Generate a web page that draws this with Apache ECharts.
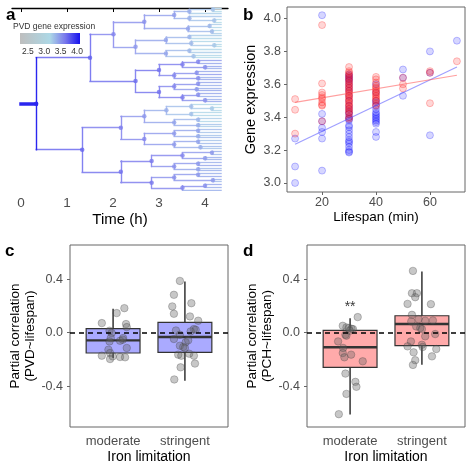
<!DOCTYPE html>
<html>
<head>
<meta charset="utf-8">
<script src="https://cdn.jsdelivr.net/npm/echarts@6/dist/echarts.min.js"></script>
<style>
  html, body { margin: 0; padding: 0; background: #fff; }
  #chart { width: 474px; height: 473px; }
</style>
</head>
<body>
<div id="chart"></div>
<script>
// ---- panel a: lineage tree ----
// node = [division time (h), PVD expression, upper child, lower child]; a bare number is a cell alive at the end
const END_TIME = 4.35;
const timeTicks = [0, 1, 2, 3, 4];
const legendTicks = [2.5, 3.0, 3.5, 4.0];
const upperLineage = [1.50, 3.78,
  [2.01, 3.62,
    [2.68, 3.55,
      [3.33, 3.48, [3.66, 3.40, [4.17, 3.30, 3.22, 3.18], 3.24], [3.66, 3.38, 3.28, [4.20, 3.30, 3.20, 3.16]]],
      [3.63, 3.45, [4.10, 3.35, 3.25, 3.20], [4.15, 3.34, 3.20, 3.24]]],
    [2.49, 3.52,
      [3.15, 3.45, [3.66, 3.36, 3.25, 3.20], [3.70, 3.34, 3.20, [4.20, 3.26, 3.20, 3.15]]],
      [3.15, 3.44, [3.66, 3.35, 3.20, 3.25], [3.75, 3.30, 3.20, 3.15]]]],
  [2.49, 3.72,
    [3.00, 3.70,
      [3.51, 3.65, [3.85, 3.60, 3.50, 3.45], [4.00, 3.55, 3.45, 3.40]],
      [3.33, 3.60, [3.82, 3.55, 3.45, 3.50], [3.85, 3.55, 3.40, 3.45]]],
    [3.00, 3.70,
      [3.33, 3.60, [3.85, 3.55, 3.45, 3.40], [3.82, 3.50, 3.40, 3.45]],
      [3.51, 3.65, [3.85, 3.55, 3.45, 3.40], [4.00, 3.55, 3.40, 3.45]]]]];
const lowerLineage = [1.33, 3.76,
  [2.17, 3.65,
    [2.68, 3.52,
      [3.16, 3.40, [3.70, 3.32, 3.20, [4.15, 3.25, 3.15, 3.20]], [3.70, 3.30, 3.20, 3.20]],
      [3.33, 3.45, [3.85, 3.36, 3.25, 3.20], [3.85, 3.40, 3.30, 3.25]]],
    [2.68, 3.60,
      [3.33, 3.50, [3.85, 3.45, 3.35, 3.30], [3.85, 3.40, 3.30, 3.35]],
      [3.33, 3.50, [3.85, 3.45, 3.30, 3.35], [3.90, 3.40, 3.35, 3.30]]]],
  [2.17, 3.70,
    [2.84, 3.66,
      [3.51, 3.60, [4.15, 3.50, 3.40, 3.35], [4.00, 3.50, 3.40, 3.40]],
      [3.33, 3.55, [3.85, 3.50, 3.40, 3.45], [3.85, 3.45, 3.35, 3.40]]],
    [2.84, 3.66,
      [3.33, 3.55, [3.85, 3.50, 3.40, 3.45], [4.17, 3.50, 3.40, 3.35]],
      [3.51, 3.60, [4.00, 3.55, 3.45, 3.40], 3.40]]]];
const lineage = [0.33, 4.05, upperLineage, lowerLineage];

// ---- panel b: gene expression vs lifespan ----
const pvdPoints = [
  [10, 3.27], [10, 3.10], [10, 3.00],
  [20, 4.02], [20, 3.42], [20, 3.375], [20, 3.335], [20, 3.31], [20, 3.27], [20, 3.075],
  [30, 3.66], [30, 3.65], [30, 3.64], [30, 3.63], [30, 3.62], [30, 3.60], [30, 3.58], [30, 3.56],
  [30, 3.53], [30, 3.50], [30, 3.47], [30, 3.45], [30, 3.43], [30, 3.42], [30, 3.40], [30, 3.39],
  [30, 3.38], [30, 3.35], [30, 3.34], [30, 3.32], [30, 3.30], [30, 3.28], [30, 3.26], [30, 3.25],
  [30, 3.24], [30, 3.22], [30, 3.20], [30, 3.19], [30, 3.185],
  [40, 3.60], [40, 3.55], [40, 3.50], [40, 3.49], [40, 3.47], [40, 3.45], [40, 3.43], [40, 3.42],
  [40, 3.41], [40, 3.40], [40, 3.39], [40, 3.38], [40, 3.37], [40, 3.36], [40, 3.31], [40, 3.28],
  [50, 3.69], [50, 3.64], [50, 3.53],
  [60, 3.80], [60, 3.67], [60, 3.29],
  [70, 3.865]
];
const pchPoints = [
  [10, 3.51], [10, 3.445], [10, 3.30],
  [20, 3.96], [20, 3.605], [20, 3.55], [20, 3.535], [20, 3.52], [20, 3.51], [20, 3.49], [20, 3.475], [20, 3.47], [20, 3.375],
  [30, 3.705], [30, 3.68], [30, 3.67], [30, 3.66], [30, 3.65], [30, 3.64], [30, 3.63], [30, 3.62],
  [30, 3.61], [30, 3.60], [30, 3.59], [30, 3.58], [30, 3.57], [30, 3.56], [30, 3.55], [30, 3.54],
  [30, 3.53], [30, 3.52], [30, 3.51], [30, 3.50], [30, 3.49], [30, 3.48], [30, 3.47], [30, 3.46],
  [30, 3.45], [30, 3.44], [30, 3.43], [30, 3.42], [30, 3.40], [30, 3.39],
  [40, 3.645], [40, 3.63], [40, 3.61], [40, 3.59], [40, 3.58], [40, 3.57], [40, 3.56], [40, 3.55],
  [40, 3.54], [40, 3.53], [40, 3.52], [40, 3.51], [40, 3.50], [40, 3.48], [40, 3.47],
  [50, 3.64], [50, 3.60], [50, 3.575],
  [60, 3.68], [60, 3.67], [60, 3.485],
  [70, 3.74]
];
const fitLifespan = [10, 70];
const pvdFit = [3.235, 3.705];
const pchFit = [3.49, 3.655];
const lifespanTicks = [20, 40, 60];
const exprTicks = [3.0, 3.2, 3.4, 3.6, 3.8, 4.0];

// ---- panels c, d: partial correlations ----
const ironLevels = ['moderate', 'stringent'];
const corrTicks = [-0.4, 0.0, 0.4];
// [position, lower whisker, q1, median, q3, upper whisker]
const pvdBoxes = [[1, -0.19, -0.152, -0.057, 0.03, 0.18], [2, -0.36, -0.147, -0.032, 0.077, 0.383]];
const pchBoxes = [[1, -0.6125, -0.259, -0.109, 0.017, 0.109], [2, -0.239, -0.097, 0.065, 0.127, 0.458]];
const pvdCorrPoints = [
  [0.843, 0.072], [1.05, 0.147], [1.157, 0.184], [1.18, 0.065], [1.19, 0.042], [0.95, 0.015], [0.98, -0.002],
  [0.968, -0.04], [0.95, -0.065], [1.134, -0.052], [1.097, -0.06], [1.14, -0.04], [0.935, -0.127], [0.958, -0.152],
  [1.19, -0.114], [0.843, -0.172], [0.958, -0.197], [0.995, -0.177], [1.097, -0.182], [1.167, -0.184],
  [1.93, 0.388], [1.847, 0.284], [2.09, 0.221], [1.824, 0.197], [1.847, 0.142], [2.07, 0.122], [2.185, 0.09],
  [2.125, 0.027], [2.15, 0.022], [2.08, 0.01], [1.875, 0.017], [1.93, -0.015], [1.847, -0.047], [2.01, -0.072],
  [1.93, -0.097], [1.977, -0.107], [2.0, -0.114], [2.046, -0.057], [1.907, -0.164], [1.95, -0.172], [2.06, -0.157],
  [2.125, -0.172], [2.14, -0.231], [1.94, -0.259], [1.852, -0.35]
];
const pchCorrPoints = [
  [1.106, 0.117], [0.898, 0.052], [0.949, 0.04], [0.98, 0.035], [1.019, 0.03], [1.04, 0.027], [0.995, 0.015],
  [0.935, -0.015], [0.949, -0.022], [0.833, -0.065], [0.903, -0.114], [0.898, -0.152], [0.921, -0.184],
  [1.014, -0.164], [1.176, -0.214], [0.935, -0.306], [1.074, -0.368], [1.088, -0.405], [0.949, -0.458], [0.843, -0.61],
  [1.875, 0.463], [1.861, 0.296], [1.93, 0.296], [1.907, 0.266], [1.80, 0.216], [2.125, 0.214], [1.861, 0.134],
  [1.852, 0.085], [1.954, 0.102], [2.046, 0.09], [2.153, 0.092], [1.92, 0.047], [1.977, 0.035], [2.0, 0.027],
  [2.185, -0.01], [2.046, -0.027], [1.847, -0.065], [1.80, -0.102], [2.0, -0.09], [2.2, -0.122], [1.884, -0.147],
  [2.14, -0.177], [1.907, -0.206], [1.875, -0.241], [2.01, -0.107]
];
const pchSignif = [[1, 0.19, '**']];

// ---------------------------------------------------------------
const FONT = 'Liberation Sans, Arial, sans-serif';
const TICK_GRAY = '#4d4d4d';
const FRAME = '#666';

// colour scale gray -> lightblue -> (purplish) blue, shared by tree and legend bar
const C_MIN = 2.26, C_MAX = 4.09;
const stops = [[0, [190, 190, 190]], [0.5, [173, 216, 230]], [0.75, [122, 122, 236]], [1, [22, 18, 238]]];
function exprColor(v, whiten) {
  const t = Math.min(1, Math.max(0, (v - C_MIN) / (C_MAX - C_MIN)));
  let i = 0;
  while (i < stops.length - 2 && t > stops[i + 1][0]) i++;
  const [o0, a] = stops[i], [o1, b] = stops[i + 1];
  const s = (t - o0) / (o1 - o0);
  const w = whiten || 0;
  const c = a.map((x, k) => x + (b[k] - x) * s).map(x => Math.round(x + (255 - x) * w));
  return 'rgb(' + c.join(',') + ')';
}

// walk the tree: leaves get consecutive rows, internal nodes sit between their children
const treeSegments = [];
const treeNodes = [];
let leafRow = 0;
function walk(node, start, isRoot) {
  if (typeof node === 'number') {
    const y = leafRow++;
    treeSegments.push({ coords: [[start, y], [END_TIME, y]], lineStyle: { color: exprColor(node, 0.22), width: 1.3 } });
    return y;
  }
  const [t, e, up, down] = node;
  const y0 = walk(up, t, false);
  const y1 = walk(down, t, false);
  const y = (y0 + y1) / 2;
  const col = exprColor(e, isRoot ? 0.05 : 0.22);
  treeSegments.push({ coords: [[start, y], [t, y]], lineStyle: { color: col, width: isRoot ? 3.5 : 1.4 } });
  treeSegments.push({ coords: [[t, y0], [t, y1]], lineStyle: { color: col, width: 1.4 } });
  treeNodes.push({ value: [t, y], itemStyle: { color: exprColor(e, 0.05) } });
  return y;
}
walk(lineage, 0, true);
const nLeaves = leafRow;

function boxRenderer(fill) {
  return function (params, api) {
    const x = api.value(0), half = 0.375;
    const lo = api.coord([x, api.value(1)]);
    const hi = api.coord([x, api.value(5)]);
    const tl = api.coord([x - half, api.value(4)]);
    const br = api.coord([x + half, api.value(2)]);
    const ml = api.coord([x - half, api.value(3)]);
    const mr = api.coord([x + half, api.value(3)]);
    return {
      type: 'group',
      children: [
        { type: 'line', shape: { x1: lo[0], y1: lo[1], x2: hi[0], y2: hi[1] }, style: { stroke: '#333', lineWidth: 1.5 } },
        { type: 'rect', shape: { x: tl[0], y: tl[1], width: br[0] - tl[0], height: br[1] - tl[1] },
          style: { fill: fill, stroke: '#333', lineWidth: 1.2 } },
        { type: 'line', shape: { x1: ml[0], y1: ml[1], x2: mr[0], y2: mr[1] }, style: { stroke: '#333', lineWidth: 2.4 } }
      ]
    };
  };
}

const labelStyle = { color: TICK_GRAY, fontSize: 12.5, fontFamily: FONT };
const nameStyle = { color: '#000', fontFamily: FONT };
function frameTick() { return { show: true, length: 3, lineStyle: { color: FRAME } }; }

const grids = [
  { left: 12, top: 5, width: 216, height: 186 },
  { left: 287, top: 7, width: 178, height: 185, show: true, borderColor: FRAME, borderWidth: 1 },
  { left: 70, top: 245, width: 158, height: 182, show: true, borderColor: FRAME, borderWidth: 1 },
  { left: 307, top: 245, width: 158, height: 182, show: true, borderColor: FRAME, borderWidth: 1 }
];

function corrY(idx, name) {
  return {
    type: 'value', gridIndex: idx, min: -0.706, max: 0.657, splitLine: { show: false },
    axisLine: { show: false }, axisTick: Object.assign(frameTick(), { customValues: corrTicks }),
    axisLabel: Object.assign({ margin: 7, customValues: corrTicks, formatter: v => v.toFixed(1) }, labelStyle),
    name: name, nameLocation: 'middle', nameGap: 32,
    nameTextStyle: Object.assign({ fontSize: 13.5, lineHeight: 15 }, nameStyle)
  };
}
function corrX(idx) {
  return {
    type: 'value', gridIndex: idx, min: 0.4, max: 2.6, splitLine: { show: false },
    axisLine: { show: false }, axisTick: Object.assign(frameTick(), { customValues: [1, 2] }),
    axisLabel: Object.assign({ margin: 8, customValues: [1, 2], formatter: v => ironLevels[Math.round(v) - 1] },
      labelStyle, { fontSize: 13 }),
    name: 'Iron limitation', nameLocation: 'middle', nameGap: 23,
    nameTextStyle: Object.assign({ fontSize: 14 }, nameStyle)
  };
}

const pointStyle = { color: 'rgba(100,100,100,0.45)', borderColor: 'rgba(60,60,60,0.45)', borderWidth: 0.8 };
const zeroLine = {
  silent: true, symbol: ['none', 'none'], label: { show: false },
  lineStyle: { color: '#000', type: [5, 4], width: 1.5 }, data: [{ yAxis: 0 }]
};

const option = {
  animation: false,
  grid: grids,
  xAxis: [
    {
      type: 'value', gridIndex: 0, min: -0.196, max: 4.5, splitLine: { show: false },
      axisLine: { lineStyle: { color: '#000', width: 1.3 } },
      axisTick: { length: 4, lineStyle: { color: '#000' }, customValues: timeTicks },
      axisLabel: Object.assign({ margin: 5, customValues: timeTicks }, labelStyle, { fontSize: 13.5 }),
      name: 'Time (h)', nameLocation: 'middle', nameGap: 21,
      nameTextStyle: Object.assign({ fontSize: 15 }, nameStyle)
    },
    {
      type: 'value', gridIndex: 1, min: 7, max: 73, splitLine: { show: false },
      axisLine: { show: false }, axisTick: Object.assign(frameTick(), { customValues: lifespanTicks }),
      axisLabel: Object.assign({ margin: 4, customValues: lifespanTicks }, labelStyle),
      name: 'Lifespan (min)', nameLocation: 'middle', nameGap: 15,
      nameTextStyle: Object.assign({ fontSize: 13.5 }, nameStyle)
    },
    corrX(2),
    corrX(3)
  ],
  yAxis: [
    { type: 'value', gridIndex: 0, show: false, inverse: true, min: -1.1, max: nLeaves - 0.6 },
    {
      type: 'value', gridIndex: 1, min: 2.945, max: 4.07, splitLine: { show: false },
      axisLine: { show: false }, axisTick: Object.assign(frameTick(), { customValues: exprTicks }),
      axisLabel: Object.assign({ margin: 6, customValues: exprTicks, formatter: v => v.toFixed(1) }, labelStyle),
      name: 'Gene expression', nameLocation: 'middle', nameGap: 29,
      nameTextStyle: Object.assign({ fontSize: 14.5 }, nameStyle)
    },
    corrY(2, 'Partial correlation\n(PVD~lifespan)'),
    corrY(3, 'Partial correlation\n(PCH~lifespan)')
  ],
  series: [
    {
      type: 'lines', coordinateSystem: 'cartesian2d', xAxisIndex: 0, yAxisIndex: 0, silent: true,
      polyline: false, lineStyle: { opacity: 1, curveness: 0, cap: 'square' }, data: treeSegments
    },
    { type: 'scatter', xAxisIndex: 0, yAxisIndex: 0, symbolSize: 4.5, silent: true, data: treeNodes },

    {
      type: 'scatter', xAxisIndex: 1, yAxisIndex: 1, symbolSize: 7, data: pvdPoints,
      itemStyle: { color: 'rgba(0,0,255,0.2)', borderColor: 'rgba(0,0,255,0.3)', borderWidth: 1 }
    },
    {
      type: 'scatter', xAxisIndex: 1, yAxisIndex: 1, symbolSize: 7, data: pchPoints,
      itemStyle: { color: 'rgba(255,0,0,0.2)', borderColor: 'rgba(255,0,0,0.3)', borderWidth: 1 }
    },
    {
      type: 'line', xAxisIndex: 1, yAxisIndex: 1, symbol: 'none',
      data: fitLifespan.map((x, i) => [x, pvdFit[i]]), lineStyle: { color: 'rgba(80,80,255,0.55)', width: 1.2 }
    },
    {
      type: 'line', xAxisIndex: 1, yAxisIndex: 1, symbol: 'none',
      data: fitLifespan.map((x, i) => [x, pchFit[i]]), lineStyle: { color: 'rgba(255,80,80,0.55)', width: 1.2 }
    },

    { type: 'custom', xAxisIndex: 2, yAxisIndex: 2, renderItem: boxRenderer('#aaaaff'), data: pvdBoxes, silent: true },
    {
      type: 'scatter', xAxisIndex: 2, yAxisIndex: 2, symbolSize: 7.5, data: pvdCorrPoints,
      itemStyle: pointStyle, markLine: zeroLine
    },
    { type: 'custom', xAxisIndex: 3, yAxisIndex: 3, renderItem: boxRenderer('#ffaaaa'), data: pchBoxes, silent: true },
    {
      type: 'scatter', xAxisIndex: 3, yAxisIndex: 3, symbolSize: 7.5, data: pchCorrPoints,
      itemStyle: pointStyle, markLine: zeroLine
    },
    {
      type: 'scatter', xAxisIndex: 3, yAxisIndex: 3, symbolSize: 0, data: pchSignif,
      label: { show: true, position: 'inside', formatter: p => p.data[2], color: '#000', fontSize: 14, fontFamily: FONT }
    }
  ],
  graphic: [
    { type: 'text', left: 6, top: 7, style: { text: 'a', font: 'bold 17px ' + FONT, fill: '#000' } },
    { type: 'text', left: 243, top: 7, style: { text: 'b', font: 'bold 17px ' + FONT, fill: '#000' } },
    { type: 'text', left: 5, top: 243, style: { text: 'c', font: 'bold 17px ' + FONT, fill: '#000' } },
    { type: 'text', left: 243, top: 243, style: { text: 'd', font: 'bold 17px ' + FONT, fill: '#000' } },
    // colour legend
    { type: 'text', left: 13, top: 22, style: { text: 'PVD gene expression', font: '8.5px ' + FONT, fill: '#333' } },
    {
      type: 'rect', shape: { x: 20, y: 33, width: 60, height: 11 },
      style: {
        fill: new echarts.graphic.LinearGradient(0, 0, 1, 0,
          stops.map(s => ({ offset: s[0], color: 'rgb(' + s[1].join(',') + ')' })))
      }
    }
  ].concat(legendTicks.map(v => ({
    type: 'text', x: 20 + (v - C_MIN) / (C_MAX - C_MIN) * 60, y: 52,
    style: { text: v.toFixed(1), font: '8.5px ' + FONT, fill: '#333', align: 'center', verticalAlign: 'middle' }
  })))
};

const chart = echarts.init(document.getElementById('chart'));
chart.setOption(option);
</script>
</body>
</html>
